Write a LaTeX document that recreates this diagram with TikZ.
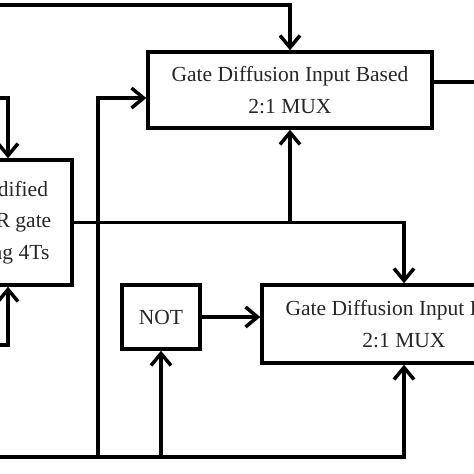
\documentclass[tikz,border=0pt]{standalone}
\usepackage{fontspec}
\setmainfont{Liberation Serif}
\usetikzlibrary{arrows.meta}
\begin{document}
\begin{tikzpicture}[
        x=1pt, y=-1pt,
        blk/.style={draw, rectangle, line width=3.5pt, align=center, text=black!85, font=\fontsize{21.5}{31.5}\selectfont},
        wire/.style={line width=3.5pt},
        arr/.style={wire, -{Straight Barb[length=12pt, width=20pt]}},
    ]
    \useasboundingbox (0,0) rectangle (474,474);
    \clip (0,0) rectangle (474,474);

    \node[blk, minimum width=284pt, minimum height=76pt](mux1) at (290,90){Gate Diffusion Input Based\\2:1 MUX};
    \node[blk, minimum width=284pt, minimum height=78pt](mux2) at (404,324){Gate Diffusion Input Based\\2:1 MUX};
    \node[blk, minimum width=128pt, minimum height=125pt](xor) at (8,222.5){Modified\\XOR gate\\using 4Ts};
    \node[blk, minimum width=78pt, minimum height=64pt](not) at (161,317){NOT};

    \coordinate (topin) at (0,5);
    \coordinate (xorin) at (0,98);
    \coordinate (xorlow) at (0,345);
    \coordinate (busin) at (0,457);
    \coordinate (sel) at (98,457);
    \coordinate (out) at (474,82);

    \draw[arr] (topin) -| (mux1.north);
    \draw[arr] (xorin) -| (xor.north);
    \draw[arr] (xorlow) -| (xor.south);
    \draw[arr] (xor.east) -| (mux2.north);
    \draw[arr] (mux1.south |- xor.east) -- (mux1.south);
    \draw[arr] (busin) -| (mux2.south);
    \draw[arr] (sel) |- ([yshift=-8pt]mux1.west);
    \draw[arr] (not.south |- busin) -- (not.south);
    \draw[arr] (not.east) -- (not.east -| mux2.west);
    \draw[wire] ([yshift=8pt]mux1.east) -- (out);

\end{tikzpicture}
\end{document}
